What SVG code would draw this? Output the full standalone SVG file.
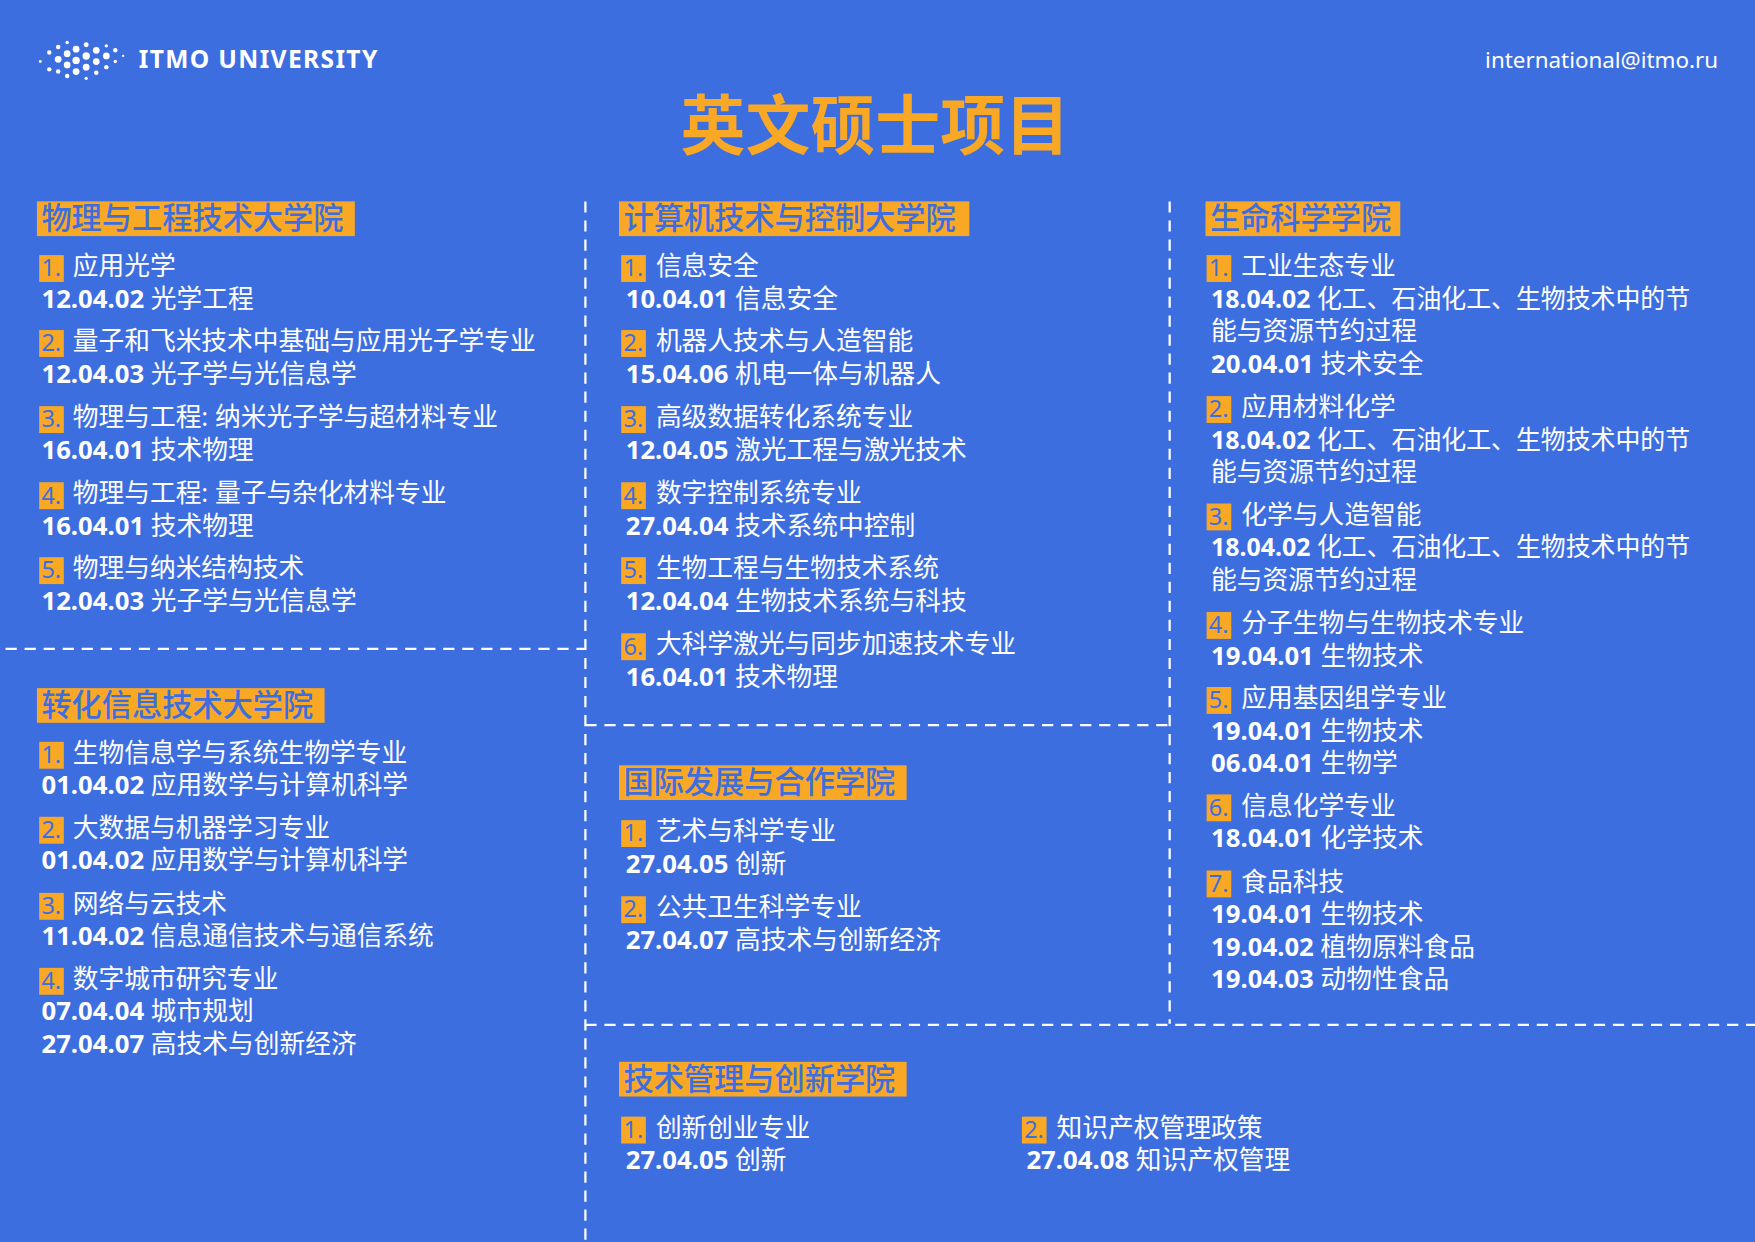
<svg xmlns="http://www.w3.org/2000/svg" width="1755" height="1242" viewBox="0 0 1755 1242">
<style>
text{font-family:"Noto Sans","Noto Sans CJK SC",sans-serif}
.h{font-size:27px;fill:#3d6ee0;font-weight:500}
.hb{fill:#f9a825}
.t{font-size:23px;fill:#fff}
.b{font-weight:700}
.n{font-size:21px;fill:#3d6ee0}
.d{stroke:#fff;stroke-width:2;stroke-dasharray:10 7;fill:none}
</style>
<rect width="1755" height="1242" fill="#3d6ee0"/>
<g transform="scale(1.1193,1.1189)">
<g id="logo" fill="#fff">
<circle cx="36" cy="55" r="1.3"/><circle cx="44" cy="47" r="2"/><circle cx="44" cy="62" r="2"/>
<circle cx="52" cy="42" r="2"/><circle cx="52" cy="53" r="3"/><circle cx="52" cy="64" r="2"/>
<circle cx="60" cy="38" r="1.5"/><circle cx="60" cy="48" r="3"/><circle cx="60" cy="58" r="3"/><circle cx="60" cy="68" r="2"/>
<circle cx="68" cy="44" r="3"/><circle cx="68" cy="54" r="3.3"/><circle cx="68" cy="64" r="3"/>
<circle cx="77" cy="40" r="2.2"/><circle cx="77" cy="50" r="3.3"/><circle cx="77" cy="60" r="3"/><circle cx="77" cy="70" r="1.5"/>
<circle cx="86" cy="45" r="3"/><circle cx="86" cy="55" r="3"/><circle cx="86" cy="65" r="2"/>
<circle cx="95" cy="41" r="1.5"/><circle cx="95" cy="50" r="3"/><circle cx="95" cy="60" r="2"/>
<circle cx="103" cy="45" r="2"/><circle cx="103" cy="55" r="1.5"/><circle cx="110" cy="50" r="1"/>
<text x="124" y="61" style="font-size:22px;font-weight:700;fill:#fff;letter-spacing:1.2px">ITMO UNIVERSITY</text>
</g>
<text id="email" x="1535" y="61" text-anchor="end" style="font-size:20px;fill:#fff">international@itmo.ru</text>
<text id="title" x="782" y="133" text-anchor="middle" style="font-size:58px;font-weight:700;fill:#f9a825">英文硕士项目</text>
<g id="connectors">
<path class="d" d="M523 180V1110M1045 180V915M5 580H523M523 648H1045M523 916H1568"/>
</g>
<g id="s1">
<rect class="hb" x="33" y="180" width="284" height="31"/><text class="h" x="37" y="205">物理与工程技术大学院</text>
<rect class="hb" x="35" y="228" width="22" height="24"/><text class="n" x="37" y="247">1.</text><text class="t" x="65" y="246">应用光学</text>
<text class="t" x="37" y="275"><tspan class="b">12.04.02</tspan> 光学工程</text>
<rect class="hb" x="35" y="295" width="22" height="24"/><text class="n" x="37" y="314">2.</text><text class="t" x="65" y="313">量子和飞米技术中基础与应用光子学专业</text>
<text class="t" x="37" y="342"><tspan class="b">12.04.03</tspan> 光子学与光信息学</text>
<rect class="hb" x="35" y="363" width="22" height="24"/><text class="n" x="37" y="382">3.</text><text class="t" x="65" y="381">物理与工程: 纳米光子学与超材料专业</text>
<text class="t" x="37" y="410"><tspan class="b">16.04.01</tspan> 技术物理</text>
<rect class="hb" x="35" y="431" width="22" height="24"/><text class="n" x="37" y="450">4.</text><text class="t" x="65" y="449">物理与工程: 量子与杂化材料专业</text>
<text class="t" x="37" y="478"><tspan class="b">16.04.01</tspan> 技术物理</text>
<rect class="hb" x="35" y="498" width="22" height="24"/><text class="n" x="37" y="517">5.</text><text class="t" x="65" y="516">物理与纳米结构技术</text>
<text class="t" x="37" y="545"><tspan class="b">12.04.03</tspan> 光子学与光信息学</text>
</g>
<g id="s2">
<rect class="hb" x="33" y="615" width="257" height="31"/><text class="h" x="37" y="640">转化信息技术大学院</text>
<rect class="hb" x="35" y="663" width="22" height="24"/><text class="n" x="37" y="682">1.</text><text class="t" x="65" y="681">生物信息学与系统生物学专业</text>
<text class="t" x="37" y="710"><tspan class="b">01.04.02</tspan> 应用数学与计算机科学</text>
<rect class="hb" x="35" y="730" width="22" height="24"/><text class="n" x="37" y="749">2.</text><text class="t" x="65" y="748">大数据与机器学习专业</text>
<text class="t" x="37" y="777"><tspan class="b">01.04.02</tspan> 应用数学与计算机科学</text>
<rect class="hb" x="35" y="798" width="22" height="24"/><text class="n" x="37" y="817">3.</text><text class="t" x="65" y="816">网络与云技术</text>
<text class="t" x="37" y="845"><tspan class="b">11.04.02</tspan> 信息通信技术与通信系统</text>
<rect class="hb" x="35" y="865" width="22" height="24"/><text class="n" x="37" y="884">4.</text><text class="t" x="65" y="883">数字城市研究专业</text>
<text class="t" x="37" y="912"><tspan class="b">07.04.04</tspan> 城市规划</text>
<text class="t" x="37" y="941"><tspan class="b">27.04.07</tspan> 高技术与创新经济</text>
</g>
<g id="s3">
<rect class="hb" x="553" y="180" width="313" height="31"/><text class="h" x="557" y="205">计算机技术与控制大学院</text>
<rect class="hb" x="555" y="228" width="22" height="24"/><text class="n" x="557" y="247">1.</text><text class="t" x="586" y="246">信息安全</text>
<text class="t" x="559" y="275"><tspan class="b">10.04.01</tspan> 信息安全</text>
<rect class="hb" x="555" y="295" width="22" height="24"/><text class="n" x="557" y="314">2.</text><text class="t" x="586" y="313">机器人技术与人造智能</text>
<text class="t" x="559" y="342"><tspan class="b">15.04.06</tspan> 机电一体与机器人</text>
<rect class="hb" x="555" y="363" width="22" height="24"/><text class="n" x="557" y="382">3.</text><text class="t" x="586" y="381">高级数据转化系统专业</text>
<text class="t" x="559" y="410"><tspan class="b">12.04.05</tspan> 激光工程与激光技术</text>
<rect class="hb" x="555" y="431" width="22" height="24"/><text class="n" x="557" y="450">4.</text><text class="t" x="586" y="449">数字控制系统专业</text>
<text class="t" x="559" y="478"><tspan class="b">27.04.04</tspan> 技术系统中控制</text>
<rect class="hb" x="555" y="498" width="22" height="24"/><text class="n" x="557" y="517">5.</text><text class="t" x="586" y="516">生物工程与生物技术系统</text>
<text class="t" x="559" y="545"><tspan class="b">12.04.04</tspan> 生物技术系统与科技</text>
<rect class="hb" x="555" y="566" width="22" height="24"/><text class="n" x="557" y="585">6.</text><text class="t" x="586" y="584">大科学激光与同步加速技术专业</text>
<text class="t" x="559" y="613"><tspan class="b">16.04.01</tspan> 技术物理</text>
</g>
<g id="s4">
<rect class="hb" x="553" y="684" width="257" height="31"/><text class="h" x="557" y="709">国际发展与合作学院</text>
<rect class="hb" x="555" y="733" width="22" height="24"/><text class="n" x="557" y="752">1.</text><text class="t" x="586" y="751">艺术与科学专业</text>
<text class="t" x="559" y="780"><tspan class="b">27.04.05</tspan> 创新</text>
<rect class="hb" x="555" y="801" width="22" height="24"/><text class="n" x="557" y="820">2.</text><text class="t" x="586" y="819">公共卫生科学专业</text>
<text class="t" x="559" y="848"><tspan class="b">27.04.07</tspan> 高技术与创新经济</text>
</g>
<g id="s5">
<rect class="hb" x="553" y="949" width="257" height="31"/><text class="h" x="557" y="974">技术管理与创新学院</text>
<rect class="hb" x="555" y="998" width="22" height="24"/><text class="n" x="557" y="1017">1.</text><text class="t" x="586" y="1016">创新创业专业</text>
<text class="t" x="559" y="1045"><tspan class="b">27.04.05</tspan> 创新</text>
<rect class="hb" x="913" y="998" width="22" height="24"/><text class="n" x="915" y="1017">2.</text><text class="t" x="944" y="1016">知识产权管理政策</text>
<text class="t" x="917" y="1045"><tspan class="b">27.04.08</tspan> 知识产权管理</text>
</g>
<g id="s6">
<rect class="hb" x="1077" y="180" width="174" height="31"/><text class="h" x="1081" y="205">生命科学学院</text>
<rect class="hb" x="1078" y="228" width="22" height="24"/><text class="n" x="1080" y="247">1.</text><text class="t" x="1109" y="246">工业生态专业</text>
<text class="t" x="1082" y="275" textLength="428" lengthAdjust="spacingAndGlyphs"><tspan class="b">18.04.02</tspan> 化工、石油化工、生物技术中的节</text>
<text class="t" x="1082" y="304">能与资源节约过程</text>
<text class="t" x="1082" y="333"><tspan class="b">20.04.01</tspan> 技术安全</text>
<rect class="hb" x="1078" y="354" width="22" height="24"/><text class="n" x="1080" y="373">2.</text><text class="t" x="1109" y="372">应用材料化学</text>
<text class="t" x="1082" y="401" textLength="428" lengthAdjust="spacingAndGlyphs"><tspan class="b">18.04.02</tspan> 化工、石油化工、生物技术中的节</text>
<text class="t" x="1082" y="430">能与资源节约过程</text>
<rect class="hb" x="1078" y="450" width="22" height="24"/><text class="n" x="1080" y="469">3.</text><text class="t" x="1109" y="468">化学与人造智能</text>
<text class="t" x="1082" y="497" textLength="428" lengthAdjust="spacingAndGlyphs"><tspan class="b">18.04.02</tspan> 化工、石油化工、生物技术中的节</text>
<text class="t" x="1082" y="526">能与资源节约过程</text>
<rect class="hb" x="1078" y="547" width="22" height="24"/><text class="n" x="1080" y="566">4.</text><text class="t" x="1109" y="565">分子生物与生物技术专业</text>
<text class="t" x="1082" y="594"><tspan class="b">19.04.01</tspan> 生物技术</text>
<rect class="hb" x="1078" y="614" width="22" height="24"/><text class="n" x="1080" y="633">5.</text><text class="t" x="1109" y="632">应用基因组学专业</text>
<text class="t" x="1082" y="661"><tspan class="b">19.04.01</tspan> 生物技术</text>
<text class="t" x="1082" y="690"><tspan class="b">06.04.01</tspan> 生物学</text>
<rect class="hb" x="1078" y="710" width="22" height="24"/><text class="n" x="1080" y="729">6.</text><text class="t" x="1109" y="728">信息化学专业</text>
<text class="t" x="1082" y="757"><tspan class="b">18.04.01</tspan> 化学技术</text>
<rect class="hb" x="1078" y="778" width="22" height="24"/><text class="n" x="1080" y="797">7.</text><text class="t" x="1109" y="796">食品科技</text>
<text class="t" x="1082" y="825"><tspan class="b">19.04.01</tspan> 生物技术</text>
<text class="t" x="1082" y="854"><tspan class="b">19.04.02</tspan> 植物原料食品</text>
<text class="t" x="1082" y="883"><tspan class="b">19.04.03</tspan> 动物性食品</text>
</g>
</g>
</svg>
